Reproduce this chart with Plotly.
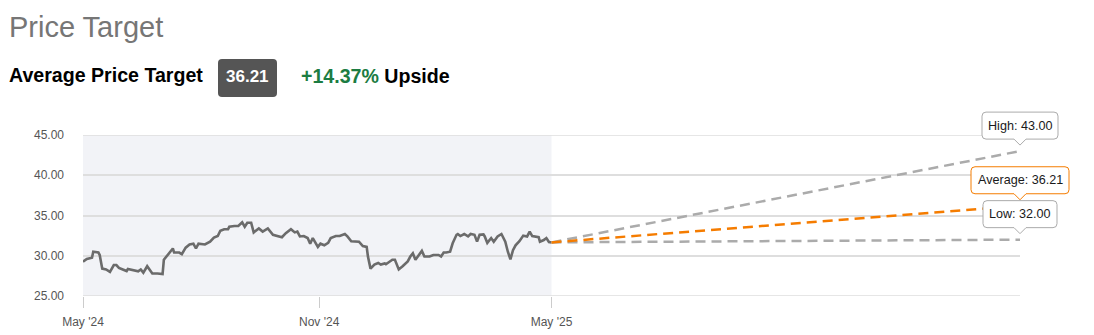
import plotly.graph_objects as go
import pandas as pd

# ---------------- data ----------------
price_dates = [
    "2024-05-01", "2024-05-04", "2024-05-08", "2024-05-09", "2024-05-13", "2024-05-14",
    "2024-05-16", "2024-05-19", "2024-05-22", "2024-05-25", "2024-05-27", "2024-05-29",
    "2024-06-01", "2024-06-04", "2024-06-05", "2024-06-09", "2024-06-13", "2024-06-15",
    "2024-06-17", "2024-06-20", "2024-06-24", "2024-06-28", "2024-07-02", "2024-07-03",
    "2024-07-06", "2024-07-10", "2024-07-11", "2024-07-15", "2024-07-17", "2024-07-20",
    "2024-07-23", "2024-07-26", "2024-07-28", "2024-07-30", "2024-08-04", "2024-08-08",
    "2024-08-11", "2024-08-14", "2024-08-16", "2024-08-19", "2024-08-22", "2024-08-23",
    "2024-08-27", "2024-08-30", "2024-09-02", "2024-09-04", "2024-09-06", "2024-09-09",
    "2024-09-11", "2024-09-15", "2024-09-18", "2024-09-22", "2024-09-26", "2024-10-01",
    "2024-10-03", "2024-10-06", "2024-10-08", "2024-10-10", "2024-10-13", "2024-10-15",
    "2024-10-17", "2024-10-20", "2024-10-23", "2024-10-25", "2024-10-27", "2024-10-29",
    "2024-10-31", "2024-11-02", "2024-11-05", "2024-11-08", "2024-11-10", "2024-11-14",
    "2024-11-17", "2024-11-21", "2024-11-23", "2024-11-26", "2024-11-29", "2024-12-02",
    "2024-12-05", "2024-12-08", "2024-12-09", "2024-12-11", "2024-12-14", "2024-12-17",
    "2024-12-19", "2024-12-22", "2024-12-23", "2024-12-26", "2024-12-28", "2024-12-30",
    "2025-01-02", "2025-01-05", "2025-01-09", "2025-01-11", "2025-01-13", "2025-01-15",
    "2025-01-18", "2025-01-20", "2025-01-22", "2025-01-26", "2025-01-29", "2025-02-02",
    "2025-02-04", "2025-02-06", "2025-02-08", "2025-02-11", "2025-02-13", "2025-02-16",
    "2025-02-17", "2025-02-19", "2025-02-22", "2025-02-25", "2025-02-27", "2025-03-02",
    "2025-03-04", "2025-03-06", "2025-03-09", "2025-03-10", "2025-03-12", "2025-03-15",
    "2025-03-17", "2025-03-20", "2025-03-23", "2025-03-26", "2025-03-28", "2025-03-30",
    "2025-04-01", "2025-04-03", "2025-04-06", "2025-04-09", "2025-04-12", "2025-04-14",
    "2025-04-16", "2025-04-18", "2025-04-21", "2025-04-22", "2025-04-25", "2025-04-27",
    "2025-04-29", "2025-05-01",
]
price_values = [
    29.27, 29.60, 29.76, 30.50, 30.40, 30.10,
    28.40, 28.30, 28.00, 28.85, 28.85, 28.50,
    28.30, 28.10, 28.35, 28.20, 28.07, 28.30,
    27.90, 28.70, 27.80, 27.80, 27.73, 29.50,
    30.10, 30.90, 30.40, 30.40, 30.20, 31.00,
    31.40, 31.50, 30.90, 31.50, 31.40, 31.75,
    32.25, 32.45, 33.10, 33.30, 33.30, 33.60,
    33.70, 33.70, 34.15, 33.60, 34.10, 34.10,
    32.90, 33.40, 33.00, 33.40, 32.60, 32.45,
    32.30, 32.80, 33.10, 33.30, 32.90, 33.00,
    32.40, 32.45, 32.20, 31.50, 32.20, 31.60,
    31.10, 31.50, 31.30, 31.60, 32.20, 32.45,
    32.45, 32.70, 32.40, 31.80, 31.75, 31.75,
    31.20, 31.10, 29.90, 28.40, 28.90, 29.10,
    28.90, 29.05, 28.95, 29.30, 29.50, 29.50,
    28.30, 28.70, 29.30, 29.90, 30.30, 29.50,
    30.10, 30.60, 29.90, 29.90, 30.10, 30.10,
    29.90, 30.40, 30.40, 30.50, 31.55, 32.60,
    32.70, 32.45, 32.70, 32.40, 32.70, 32.60,
    31.75, 32.60, 32.65, 32.40, 31.60, 32.20,
    31.75, 32.40, 32.70, 31.75, 30.50, 29.55,
    30.70, 31.30, 31.80, 32.50, 32.40, 33.00,
    32.45, 32.40, 32.30, 31.75, 31.95, 32.20,
    31.70, 31.66,
]
target_labels = ["High", "Low", "Average"]
target_values = [43.00, 32.00, 36.21]
target_date = "2026-05-01"
y_tick_values = [25, 30, 35, 40, 45]
x_tick_dates = ["2024-05-01", "2024-11-01", "2025-05-01"]
x_tick_labels = ["May '24", "Nov '24", "May '25"]

# ---------------- layout geometry / styles ----------------
W, H = 1094, 335
ML, MR, MT, MB = 83, 74, 135, 39
PW, PH = W - ML - MR, H - MT - MB
Y_RANGE = [25, 45]
X_RANGE = [price_dates[0], target_date]
FONT = "Arial, 'Liberation Sans', sans-serif"
GRID_COLOR = "#dedede"

line_colors = {"High": "#ababab", "Low": "#ababab", "Average": "#f57c00"}
box_widths = {"High": 76, "Average": 98, "Low": 74}
BOX_H, BOX_GAP, TIP, HALF_PTR, RAD = 27, 12, 6, 6, 4


def px_x(px):
    return (px - ML) / PW


def px_y(py):
    return (H - MB - py) / PH


t0 = pd.Timestamp(X_RANGE[0]).value
t1 = pd.Timestamp(X_RANGE[1]).value


def date_to_paper(d):
    return (pd.Timestamp(d).value - t0) / (t1 - t0)


def val_to_paper(v):
    return (v - Y_RANGE[0]) / (Y_RANGE[1] - Y_RANGE[0])


fig = go.Figure()

# price history
fig.add_trace(go.Scatter(
    x=price_dates, y=price_values, mode="lines",
    line=dict(color="#6b6b6b", width=2.6), hoverinfo="skip", showlegend=False,
))

last_date, last_price = price_dates[-1], price_values[-1]
avg_target = target_values[target_labels.index("Average")]

# target projection lines
for lab, val in zip(target_labels, target_values):
    fig.add_trace(go.Scatter(
        x=[last_date, target_date], y=[last_price, val], mode="lines",
        line=dict(color=line_colors[lab], width=2.5, dash="10px,6px"),
        cliponaxis=False, hoverinfo="skip", showlegend=False,
    ))

shapes = []
# history background
shapes.append(dict(
    type="rect", xref="x", yref="paper", x0=price_dates[0], x1=last_date, y0=0, y1=1,
    fillcolor="#f2f3f7", line=dict(width=0), layer="below",
))
# gridlines at the range edges (plotly omits them)
for v in (Y_RANGE[0], Y_RANGE[1]):
    shapes.append(dict(
        type="line", xref="paper", yref="y", x0=0, x1=1, y0=v, y1=v,
        line=dict(color=GRID_COLOR, width=1.5), layer="below",
    ))

annotations = []
# callouts
for lab in ["High", "Average", "Low"]:
    val = target_values[target_labels.index(lab)]
    w2 = box_widths[lab] / 2
    b, t, r = BOX_GAP, BOX_GAP + BOX_H, RAD
    path = (f"M {-w2 + r},{b} L {-HALF_PTR},{b} L 0,{TIP} L {HALF_PTR},{b} L {w2 - r},{b} "
            f"Q {w2},{b} {w2},{b + r} L {w2},{t - r} Q {w2},{t} {w2 - r},{t} "
            f"L {-w2 + r},{t} Q {-w2},{t} {-w2},{t - r} L {-w2},{b + r} Q {-w2},{b} {-w2 + r},{b} Z")
    shapes.append(dict(
        type="path", xref="paper", yref="paper", xsizemode="pixel", ysizemode="pixel",
        xanchor=date_to_paper(target_date), yanchor=val_to_paper(val), path=path,
        fillcolor="white", line=dict(color=line_colors[lab], width=1), layer="above",
    ))
    annotations.append(dict(
        x=target_date, y=val, xref="x", yref="y", yshift=BOX_GAP + BOX_H / 2,
        text=f"{lab}: {val:.2f}", showarrow=False, xanchor="center", yanchor="middle",
        font=dict(family=FONT, size=12.6, color="#1a1a1a"),
    ))

# badge behind average value
bx0, bx1, by0, by1, br = 218 - ML, 277 - ML, H - MB - 97, H - MB - 59, 4
badge = (f"M {bx0 + br},{by0} L {bx1 - br},{by0} Q {bx1},{by0} {bx1},{by0 + br} "
         f"L {bx1},{by1 - br} Q {bx1},{by1} {bx1 - br},{by1} L {bx0 + br},{by1} "
         f"Q {bx0},{by1} {bx0},{by1 - br} L {bx0},{by0 + br} Q {bx0},{by0} {bx0 + br},{by0} Z")
shapes.append(dict(
    type="path", xref="paper", yref="paper", xsizemode="pixel", ysizemode="pixel",
    xanchor=0, yanchor=0, path=badge, fillcolor="#555555", line=dict(width=0), layer="above",
))

upside = (avg_target / last_price - 1) * 100
annotations += [
    dict(x=px_x(7), y=px_y(27), xref="paper", yref="paper", xanchor="left", yanchor="middle",
         text="Price Target", showarrow=False, font=dict(family=FONT, size=29, color="#767676")),
    dict(x=px_x(7), y=px_y(75.5), xref="paper", yref="paper", xanchor="left", yanchor="middle",
         text="<b>Average Price Target</b>", showarrow=False,
         font=dict(family=FONT, size=19.6, color="#000000")),
    dict(x=px_x(247.5), y=px_y(76.5), xref="paper", yref="paper", xanchor="center", yanchor="middle",
         text=f"<b>{avg_target:.2f}</b>", showarrow=False,
         font=dict(family=FONT, size=17, color="#ffffff")),
    dict(x=px_x(299), y=px_y(76), xref="paper", yref="paper", xanchor="left", yanchor="middle",
         text=f"<b><span style='color:#1c7c42'>{upside:+.2f}%</span> Upside</b>", showarrow=False,
         font=dict(family=FONT, size=19.6, color="#000000")),
]

fig.update_layout(
    width=W, height=H, margin=dict(l=ML, r=MR, t=MT, b=MB, pad=0, autoexpand=False),
    paper_bgcolor="white", plot_bgcolor="white",
    font=dict(family=FONT, size=12, color="#555555"),
    showlegend=False, hovermode=False,
    shapes=shapes, annotations=annotations,
    xaxis=dict(
        type="date", range=X_RANGE, tickvals=x_tick_dates, ticktext=x_tick_labels,
        showgrid=False, zeroline=False, showline=False, automargin=False,
        ticks="outside", ticklen=11, tickwidth=1, tickcolor="#cccccc",
        ticklabelstandoff=4,
        tickfont=dict(family=FONT, size=12, color="#555555"),
    ),
    yaxis=dict(
        range=Y_RANGE, tickvals=y_tick_values, ticktext=[f"{v:.2f}" for v in y_tick_values],
        showgrid=True, gridcolor=GRID_COLOR, gridwidth=1.5, zeroline=False, showline=False,
        automargin=False, ticks="", ticklabelstandoff=18,
        tickfont=dict(family=FONT, size=12, color="#555555"),
    ),
)

fig.write_html("out.html")
